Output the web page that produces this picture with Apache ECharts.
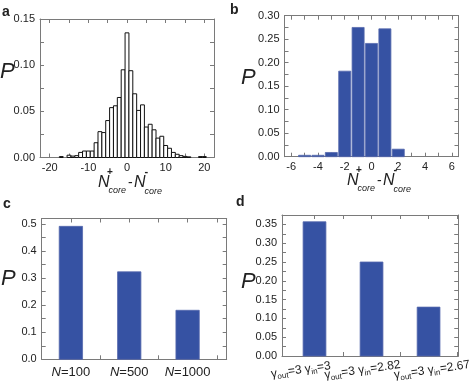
<!DOCTYPE html>
<html>
<head>
<meta charset="utf-8">
<script src="https://cdn.jsdelivr.net/npm/echarts@6/dist/echarts.min.js"></script>
<style>
html,body{margin:0;padding:0;background:#fff;}
#chart{width:474px;height:390px;}
</style>
</head>
<body>
<div id="chart"></div>
<script>
// ---------- DATA ----------
// Panel a: histogram of N+core - N-core
const aX = [-17,-15,-14,-13,-12,-11,-10,-9,-8,-7,-6,-5,-4,-3,-2,-1,0,1,2,3,4,5,6,7,8,9,10,11,12,13,14,15,16,19,20];
const aP = [0.001,0.0025,0.0015,0.002,0.0055,0.007,0.007,0.007,0.016,0.028,0.027,0.040,0.054,0.056,0.065,0.095,0.135,0.094,0.069,0.051,0.057,0.033,0.036,0.030,0.021,0.023,0.013,0.010,0.0055,0.0035,0.002,0.0012,0.0007,0.001,0.001];
// Panel b
const bX = [-5,-4,-3,-2,-1,0,1,2];
const bP = [0.003,0.003,0.009,0.182,0.275,0.241,0.272,0.016];
// Panel c
const cCategories = ['100','500','1000'];
const cP = [0.491,0.323,0.181];
// Panel d
const dGammaOut = ['3','3','3'];
const dGammaIn = ['3','2.82','2.67'];
const dP = [0.357,0.250,0.130];
// Tick labels
const aXLabels = [-20,-10,0,10,20];
const aYLabels = [0,0.05,0.10,0.15];
const bXLabels = [-6,-4,-2,0,2,4,6];
const bYLabels = [0,0.05,0.10,0.15,0.20,0.25,0.30];
const cYLabels = [0,0.1,0.2,0.3,0.4,0.5];
const dYLabels = [0,0.05,0.10,0.15,0.20,0.25,0.30,0.35];

// ---------- HELPERS ----------
const FONT = 'Liberation Sans, Arial, sans-serif';
const FRAME = '#7a7a7a';
const BLUE = '#3652a3';

function steps(from, to, step) {
  const out = [];
  const n = Math.round((to - from) / step);
  for (let i = 0; i <= n; i++) out.push(+(from + i * step).toFixed(6));
  return out;
}

function makeAxis(kind, gridIndex, min, max, ticks, labels, formatter, rich, extraLabel) {
  const pos = kind === 'x' ? 'bottom' : 'left';
  const base = {
    type: 'value', gridIndex, min, max,
    axisLine: { show: true, onZero: false, lineStyle: { color: FRAME, width: 1 } },
    axisTick: { show: true, inside: true, length: 4, customValues: ticks, lineStyle: { color: FRAME, width: 1 } },
    splitLine: { show: false },
    minorTick: { show: false }
  };
  const main = Object.assign({}, base, {
    position: pos,
    axisLabel: Object.assign({
      show: labels.length > 0, customValues: labels, formatter, color: '#222',
      fontSize: 11, fontFamily: FONT, margin: 5, rich: rich || {},
      hideOverlap: false
    }, extraLabel || {})
  });
  const mirror = Object.assign({}, base, {
    position: kind === 'x' ? 'top' : 'right',
    axisLabel: { show: false }
  });
  return [main, mirror];
}

// label-only axis (one label each, so none are dropped for overlap)
function labelAxis(gridIndex, min, max, value, formatter, rich, extraLabel) {
  return {
    type: 'value', gridIndex, min, max, position: 'bottom',
    axisLine: { show: false, onZero: false },
    axisTick: { show: false },
    splitLine: { show: false },
    axisLabel: Object.assign({
      show: true, customValues: [value], formatter, color: '#222',
      fontFamily: FONT, rich: rich, hideOverlap: false
    }, extraLabel || {})
  };
}

function rectSeries(xi, yi, xs, ys, width, style) {
  return {
    type: 'custom', xAxisIndex: xi, yAxisIndex: yi,
    data: xs.map((x, i) => [x, ys[i]]),
    encode: { x: 0, y: 1 },
    renderItem: function (params, api) {
      const x = api.value(0), y = api.value(1);
      const p0 = api.coord([x - width / 2, y]);
      const p1 = api.coord([x + width / 2, 0]);
      return {
        type: 'rect',
        shape: { x: p0[0], y: p0[1], width: p1[0] - p0[0], height: p1[1] - p0[1] },
        style: style
      };
    }
  };
}

function nTitle(x, y) {
  const it = 'italic 16px ' + FONT;
  const sm = 'italic 9px ' + FONT;
  const t = (tx, dx, dy, font) => ({
    type: 'text', left: x + dx, top: y + dy,
    style: { text: tx, font: font, fill: '#222' }
  });
  return [
    t('N', 0, -9, it),
    t('+', 9, -17, 'bold 10px ' + FONT),
    t('core', 10.5, 2, sm),
    t('-', 30, -8, '14px ' + FONT),
    t('N', 36, -9, it),
    t('-', 46.5, -18, 'bold 11px ' + FONT),
    t('core', 46.5, 3, sm)
  ];
}

function bigText(tx, x, y, font) {
  return { type: 'text', left: x, top: y, style: { text: tx, font: font, fill: '#222' } };
}

// ---------- AXES ----------
const xAxes = [], yAxes = [];
const f2 = v => v.toFixed(2);
const f1 = v => v.toFixed(1);
const fint = v => String(v);

xAxes.push(...makeAxis('x', 0, -22.5, 22.5, steps(-20, 20, 5), aXLabels, fint));
yAxes.push(...makeAxis('y', 0, 0, 0.15, steps(0, 0.15, 0.025), aYLabels, f2));

xAxes.push(...makeAxis('x', 1, -6.5, 6.5, steps(-6, 6, 1), bXLabels, fint));
yAxes.push(...makeAxis('y', 1, 0, 0.30, steps(0, 0.30, 0.025), bYLabels, f2));

xAxes.push(...makeAxis('x', 2, 0.5, 3.67, steps(1, 3.5, 0.5), [1, 2, 3],
  v => '{i|N}{n|=' + cCategories[Math.round(v) - 1] + '}',
  { i: { fontStyle: 'italic', fontSize: 13, fontFamily: FONT, color: '#222' },
    n: { fontSize: 13, fontFamily: FONT, color: '#222' } },
  { margin: 7 }));
yAxes.push(...makeAxis('y', 2, 0, 0.52, steps(0, 0.5, 0.05), cYLabels, f1));

const D_MIN = 0.43, D_MAX = 3.52;
xAxes.push(...makeAxis('x', 3, D_MIN, D_MAX, steps(1, 3.5, 0.5), [], fint));
yAxes.push(...makeAxis('y', 3, 0, 0.375, steps(0, 0.35, 0.025), dYLabels, f2));

const dRich = {
  g: { fontSize: 12, fontFamily: FONT, color: '#222' },
  s: { fontSize: 8, fontFamily: FONT, color: '#222', verticalAlign: 'bottom', padding: [7, 0, 0, 0] }
};
const dFmt = v => {
  const k = Math.round(v) - 1;
  return '{g|γ}{s|out}{g|=' + dGammaOut[k] + ' γ}{s|in}{g|=' + dGammaIn[k] + '}';
};
// label anchor offsets (in axis units) relative to each bar
const dLabelShift = [-0.24, -0.16, 0.06];
[1, 2, 3].forEach((v, i) => {
  xAxes.push(labelAxis(3, D_MIN, D_MAX, v + dLabelShift[i], dFmt, dRich,
    { rotate: 8, align: 'center', verticalAlign: 'middle', margin: 14 }));
});

// ---------- OPTION ----------
const option = {
  animation: false,
  backgroundColor: '#fff',
  grid: [
    { left: 40, top: 19, width: 174, height: 138.5 },
    { left: 284.5, top: 15.7, width: 174, height: 141 },
    { left: 41.7, top: 218.5, width: 185, height: 140.8 },
    { left: 282, top: 215, width: 181.7, height: 141 }
  ],
  xAxis: xAxes,
  yAxis: yAxes,
  series: [
    rectSeries(0, 0, aX, aP, 1, { fill: '#fff', stroke: '#111', lineWidth: 1 }),
    rectSeries(2, 2, bX, bP, 0.9, { fill: BLUE, stroke: '#5568ad', lineWidth: 0.8 }),
    rectSeries(4, 4, [1, 2, 3], cP, 0.4, { fill: BLUE, stroke: '#5568ad', lineWidth: 0.8 }),
    rectSeries(6, 6, [1, 2, 3], dP, 0.4, { fill: BLUE, stroke: '#5568ad', lineWidth: 0.8 })
  ],
  graphic: [
    bigText('a', 2, 5, 'bold 14px ' + FONT),
    bigText('b', 230, 3, 'bold 14px ' + FONT),
    bigText('c', 3, 197, 'bold 14px ' + FONT),
    bigText('d', 236, 195, 'bold 14px ' + FONT),
    bigText('P', 0, 61, 'italic 22px ' + FONT),
    bigText('P', 241, 67, 'italic 22px ' + FONT),
    bigText('P', 1, 268, 'italic 22px ' + FONT),
    bigText('P', 241, 271, 'italic 22px ' + FONT),
    ...nTitle(98, 184),
    ...nTitle(347, 182)
  ]
};

const chart = echarts.init(document.getElementById('chart'), null, { renderer: 'canvas' });
chart.setOption(option);
</script>
</body>
</html>
